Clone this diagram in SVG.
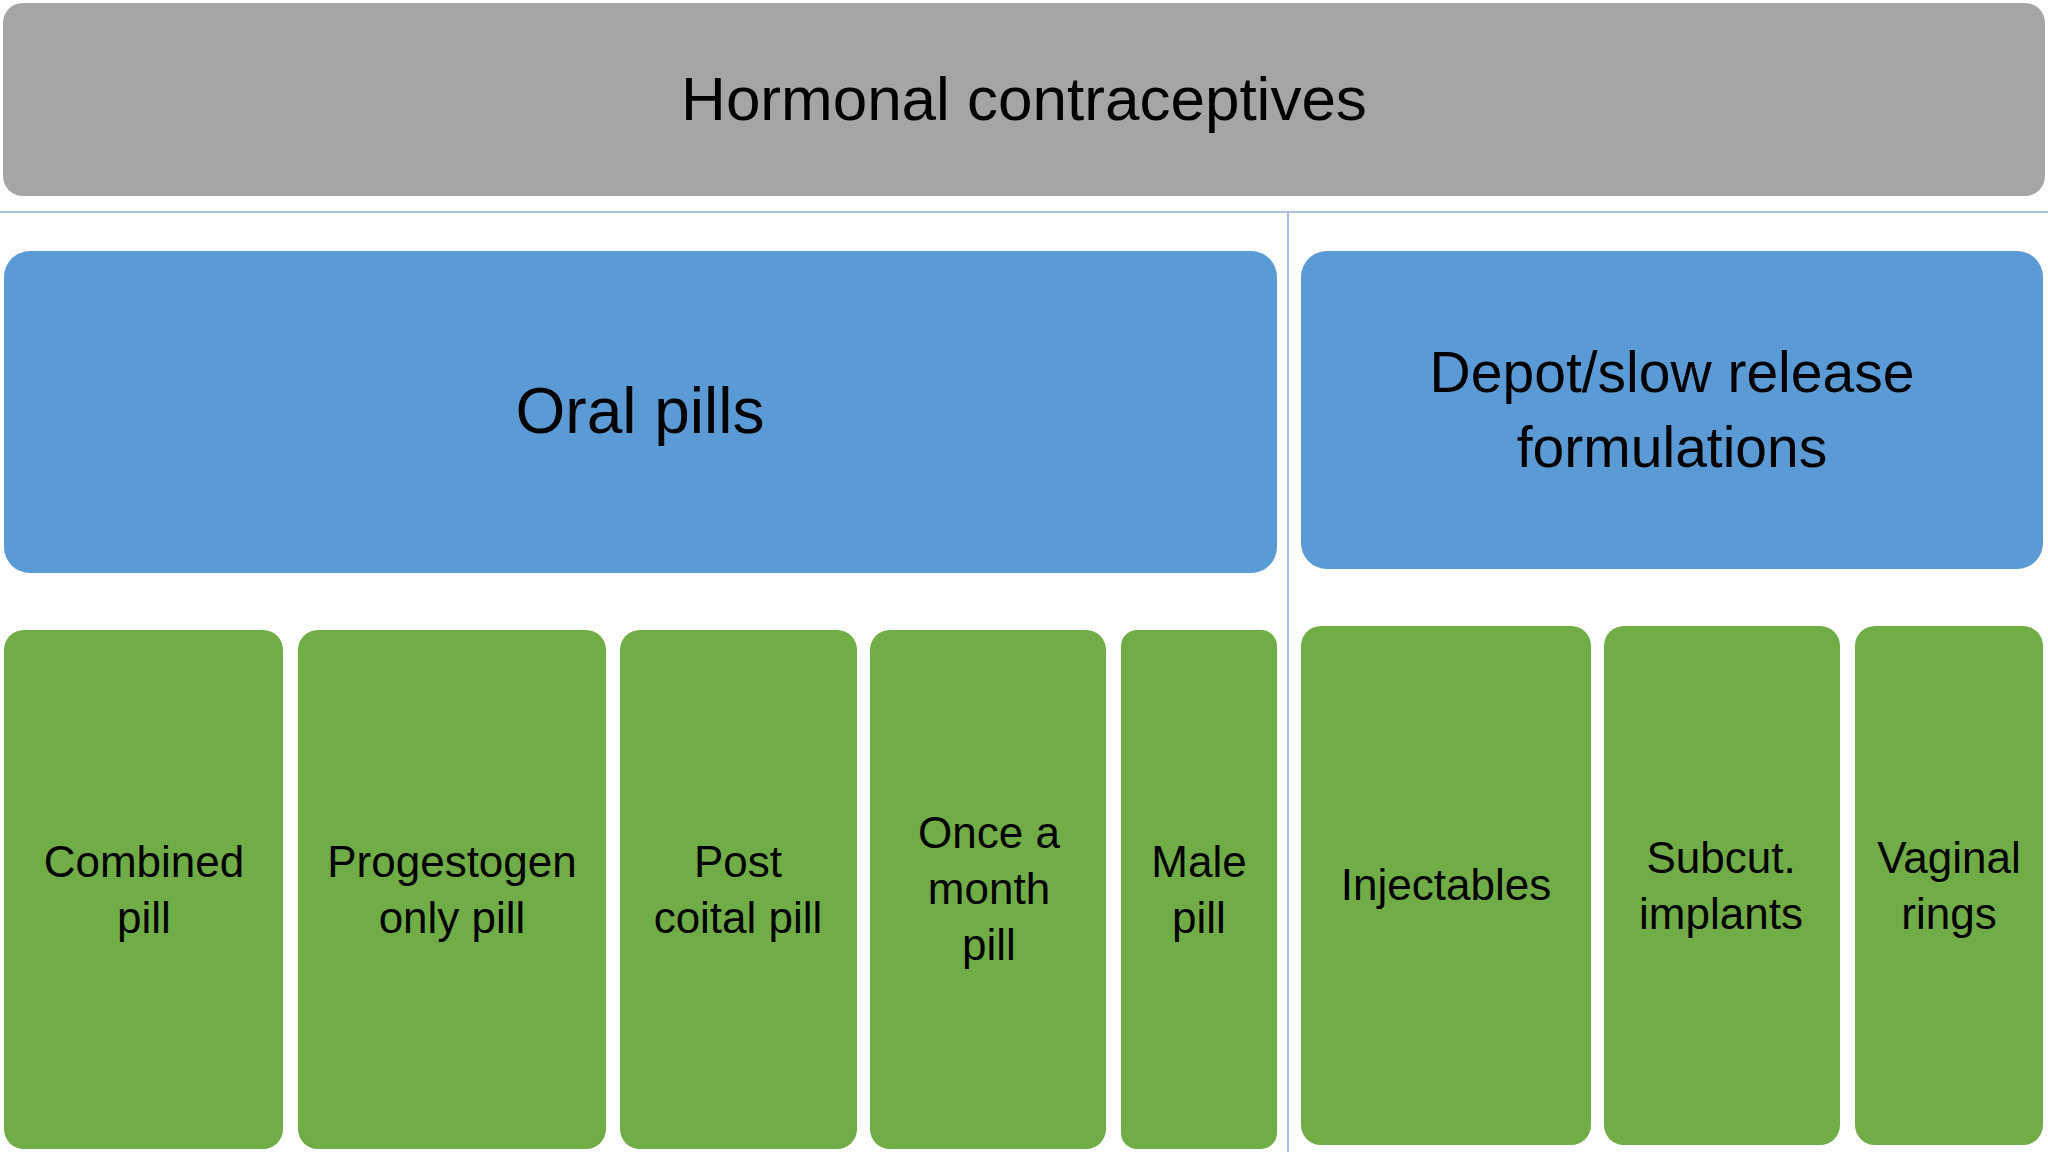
<svg xmlns="http://www.w3.org/2000/svg" width="2048" height="1152" viewBox="0 0 2048 1152">
<style>
text{font-family:"Liberation Sans","Noto Sans",sans-serif;fill:#000;text-anchor:middle;dominant-baseline:central}
.g{fill:#70ad47}.b{fill:#5b9bd5}
.s{font-size:44px}
</style>
<rect width="2048" height="1152" fill="#fff"/>
<g id="connectors" stroke="#8eaadb" stroke-width="1.5">
<line x1="0" y1="212" x2="2048" y2="212"/>
<line x1="1288" y1="212" x2="1288" y2="1152"/>
</g>
<g id="root"><rect x="3" y="3" width="2042" height="193" rx="20" fill="#a5a5a5"/><text x="1024" y="98" font-size="62">Hormonal contraceptives</text></g>
<g id="oral"><rect class="b" x="4" y="251" width="1273" height="322" rx="26"/><text x="640" y="411" font-size="64">Oral pills</text></g>
<g id="depot"><rect class="b" x="1301" y="251" width="742" height="318" rx="26"/><text x="1672" y="372" font-size="57">Depot/slow release</text><text x="1672" y="447" font-size="57">formulations</text></g>
<g id="combined"><rect class="g" x="4" y="630" width="279" height="519" rx="20"/><text class="s" x="144" y="861">Combined</text><text class="s" x="144" y="917">pill</text></g>
<g id="progestogen"><rect class="g" x="298" y="630" width="308" height="519" rx="20"/><text class="s" x="452" y="861">Progestogen</text><text class="s" x="452" y="917">only pill</text></g>
<g id="postcoital"><rect class="g" x="620" y="630" width="237" height="519" rx="20"/><text class="s" x="738" y="861">Post</text><text class="s" x="738" y="917">coital pill</text></g>
<g id="oncemonth"><rect class="g" x="870" y="630" width="236" height="519" rx="20"/><text class="s" x="989" y="832">Once a</text><text class="s" x="989" y="888">month</text><text class="s" x="989" y="944">pill</text></g>
<g id="male"><rect class="g" x="1121" y="630" width="156" height="519" rx="16"/><text class="s" x="1199" y="861">Male</text><text class="s" x="1199" y="917">pill</text></g>
<g id="injectables"><rect class="g" x="1301" y="626" width="290" height="519" rx="20"/><text class="s" x="1446" y="884">Injectables</text></g>
<g id="subcut"><rect class="g" x="1604" y="626" width="236" height="519" rx="20"/><text class="s" x="1721" y="857">Subcut.</text><text class="s" x="1721" y="913">implants</text></g>
<g id="vaginal"><rect class="g" x="1855" y="626" width="188" height="519" rx="20"/><text class="s" x="1949" y="857">Vaginal</text><text class="s" x="1949" y="913">rings</text></g>
</svg>
